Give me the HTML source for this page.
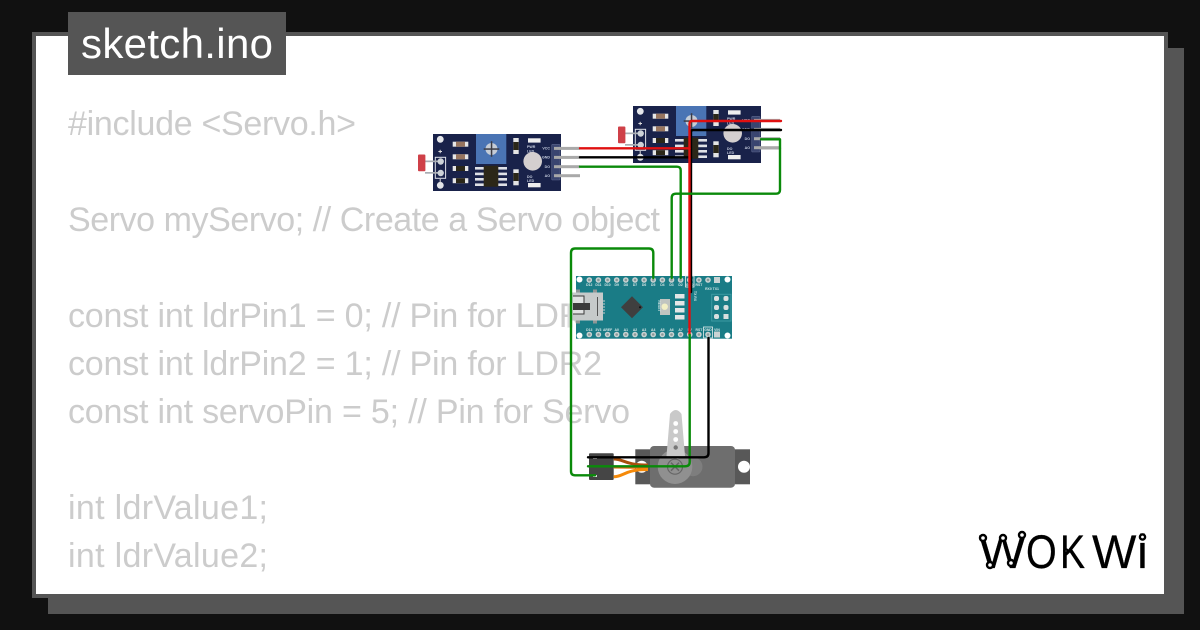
<!DOCTYPE html>
<html><head><meta charset="utf-8"><style>
html,body{margin:0;padding:0;background:#111;width:1200px;height:630px;overflow:hidden}
svg{display:block}
.c{font-family:"Liberation Sans",sans-serif;font-size:34px;fill:#ccc}
.t{font-family:"Liberation Sans",sans-serif;fill:#fff}
.m{font-family:"Liberation Sans",sans-serif;font-size:3.6px;fill:#c8cfe0;font-weight:bold}
.n{font-family:"Liberation Sans",sans-serif;font-size:3.4px;fill:#d5e6e6;text-anchor:middle;font-weight:bold}
.l{font-family:"Liberation Sans",sans-serif;font-size:47px;fill:#000;stroke:#000;stroke-width:.2}
.w{fill:none;stroke-width:2.4;stroke-linecap:round;stroke-linejoin:round}
</style></head><body>
<svg width="1200" height="630" viewBox="0 0 1200 630" xmlns="http://www.w3.org/2000/svg">
<defs>
<g id="mod">
<rect x="0" y="0" width="128" height="57" fill="#19224a"/>
<circle cx="7.3" cy="5.3" r="3.4" fill="#e4e6ea"/><circle cx="7.3" cy="51.3" r="3.4" fill="#e4e6ea"/>
<rect x="5.4" y="17" width="3.6" height="1" fill="#ddd"/><rect x="6.7" y="15.8" width="1" height="3.4" fill="#ddd"/>
<rect x="6.7" y="45" width="1" height="4" fill="#ddd"/>
<rect x="2.3" y="23.3" width="10.3" height="21" fill="none" stroke="#dfe3ea" stroke-width="1"/>
<rect x="-8" y="26.5" width="16" height="1.7" fill="#a9adb3"/><rect x="-8" y="38" width="16" height="1.7" fill="#a9adb3"/>
<circle cx="7.7" cy="27.5" r="3.2" fill="#cdd3d8"/><circle cx="7.7" cy="39" r="3.2" fill="#cdd3d8"/>
<rect x="-15" y="20.5" width="7.4" height="16.7" rx="1" fill="#cf4048"/>
<rect x="19.7" y="7.7" width="15.6" height="5" fill="#e6e6e6"/><rect x="23" y="7.7" width="9" height="5" fill="#97755f"/>
<rect x="19.7" y="20.3" width="15.6" height="5" fill="#e6e6e6"/><rect x="23" y="20.3" width="9" height="5" fill="#97755f"/>
<rect x="19.7" y="32" width="15.6" height="5" fill="#e6e6e6"/><rect x="23" y="32" width="9" height="5" fill="#2b2718"/>
<rect x="19.7" y="44.2" width="15.6" height="5" fill="#e6e6e6"/><rect x="23" y="44.2" width="9" height="5" fill="#2b2718"/>
<rect x="43" y="0" width="30.3" height="30" fill="#4a74b4"/>
<circle cx="58.5" cy="15" r="6" fill="#c5ccd6"/><rect x="50.7" y="14.3" width="15.6" height="1.5" fill="#3c3c44"/><rect x="57.8" y="7.2" width="1.5" height="15.6" fill="#3c3c44"/>
<g fill="#dfe1e6"><rect x="42" y="33" width="32" height="2.6"/><rect x="42" y="38.6" width="32" height="2.6"/><rect x="42" y="44" width="32" height="2.6"/><rect x="42" y="49.4" width="32" height="2.6"/></g>
<rect x="50.7" y="31.7" width="14.6" height="21" fill="#2c2718"/>
<rect x="80.3" y="4" width="5.4" height="16" fill="#e4e4e4"/><rect x="80.3" y="8" width="5.4" height="8" fill="#2b2718"/>
<rect x="80.3" y="35.3" width="5.4" height="16" fill="#e4e4e4"/><rect x="80.3" y="39" width="5.4" height="8" fill="#2b2718"/>
<rect x="95" y="4.3" width="12.6" height="4.3" fill="#eee"/><rect x="95" y="49" width="12.6" height="4.3" fill="#eee"/>
<text class="m" x="94" y="14">PWR</text><text class="m" x="94" y="18.3">LED</text>
<text class="m" x="94" y="44">DO</text><text class="m" x="94" y="48">LED</text>
<circle cx="99.7" cy="27.3" r="9.3" fill="#d4cfcf"/>
<text class="m" x="117" y="15.6" text-anchor="end">VCC</text><text class="m" x="117" y="24.7" text-anchor="end">GND</text><text class="m" x="117" y="34" text-anchor="end">DO</text><text class="m" x="117" y="43" text-anchor="end">AO</text>
<rect x="118.7" y="10.3" width="8.3" height="35.7" rx="1" fill="#3a4570" stroke="#5a648a" stroke-width=".6"/>
<g fill="#a9a9a9"><rect x="121" y="12.9" width="26" height="3"/><rect x="121" y="21.9" width="26" height="3"/><rect x="121" y="31.2" width="26" height="3"/><rect x="121" y="40.2" width="26" height="3"/></g>
</g>
<g id="pin"><circle r="2.8" fill="#c9d3d3"/><circle r="1.3" fill="#8c9a9a"/></g>
</defs>

<rect x="48" y="48" width="1136" height="566" fill="#555"/>
<rect x="32" y="32" width="1136" height="566" fill="#555"/>
<rect x="36" y="36" width="1128" height="558" fill="#fff"/>
<rect x="68" y="12" width="218" height="63" fill="#555"/>
<text class="t" x="81" y="58" font-size="42" textLength="192">sketch.ino</text>

<text class="c" x="68" y="135" textLength="288">#include &lt;Servo.h&gt;</text>
<text class="c" x="68" y="231" textLength="592">Servo myServo; // Create a Servo object</text>
<text class="c" x="68" y="327" textLength="534">const int ldrPin1 = 0; // Pin for LDR1</text>
<text class="c" x="68" y="375" textLength="534">const int ldrPin2 = 1; // Pin for LDR2</text>
<text class="c" x="68" y="423" textLength="562">const int servoPin = 5; // Pin for Servo</text>
<text class="c" x="68" y="519" textLength="200">int ldrValue1;</text>
<text class="c" x="68" y="567" textLength="200">int ldrValue2;</text>

<use href="#mod" x="433" y="134"/>
<use href="#mod" x="633" y="106"/>

<!-- Nano -->
<rect x="576" y="276" width="156" height="62.7" fill="#1a7c86"/>
<g fill="#fff"><circle cx="579.5" cy="279.5" r="3"/><circle cx="727.5" cy="279.5" r="3"/><circle cx="579.5" cy="335.5" r="3"/><circle cx="727.5" cy="335.5" r="3"/></g>
<g>
<use href="#pin" x="589.3" y="280"/><use href="#pin" x="598.4" y="280"/><use href="#pin" x="607.6" y="280"/><use href="#pin" x="616.7" y="280"/><use href="#pin" x="625.8" y="280"/><use href="#pin" x="635" y="280"/><use href="#pin" x="644.1" y="280"/><use href="#pin" x="653.2" y="280"/><use href="#pin" x="662.4" y="280"/><use href="#pin" x="671.5" y="280"/><use href="#pin" x="680.6" y="280"/><use href="#pin" x="689.7" y="280"/><use href="#pin" x="698.9" y="280"/><use href="#pin" x="708" y="280"/><rect x="714" y="277" width="6" height="6" fill="#c9d3d3"/>
<use href="#pin" x="589.3" y="334.5"/><use href="#pin" x="598.4" y="334.5"/><use href="#pin" x="607.6" y="334.5"/><use href="#pin" x="616.7" y="334.5"/><use href="#pin" x="625.8" y="334.5"/><use href="#pin" x="635" y="334.5"/><use href="#pin" x="644.1" y="334.5"/><use href="#pin" x="653.2" y="334.5"/><use href="#pin" x="662.4" y="334.5"/><use href="#pin" x="671.5" y="334.5"/><use href="#pin" x="680.6" y="334.5"/><use href="#pin" x="689.7" y="334.5"/><use href="#pin" x="698.9" y="334.5"/><use href="#pin" x="708" y="334.5"/><rect x="714" y="331.5" width="6" height="6" fill="#c9d3d3"/>
</g>
<rect x="685.5" y="276" width="8.5" height="11" fill="none" stroke="#e8eeee" stroke-width=".8"/>
<rect x="703.5" y="327" width="9" height="11" fill="none" stroke="#e8eeee" stroke-width=".8"/>
<text class="n" x="589.3" y="286">D12</text><text class="n" x="598.4" y="286">D11</text><text class="n" x="607.6" y="286">D10</text><text class="n" x="616.7" y="286">D9</text><text class="n" x="625.8" y="286">D8</text><text class="n" x="635" y="286">D7</text><text class="n" x="644.1" y="286">D6</text><text class="n" x="653.2" y="286">D5</text><text class="n" x="662.4" y="286">D4</text><text class="n" x="671.5" y="286">D3</text><text class="n" x="680.6" y="286">D2</text><text class="n" x="689.7" y="286">GND</text><text class="n" x="698.9" y="286">RST</text>
<text class="n" x="712" y="290">RX0 TX1</text>
<text class="n" x="589.3" y="331">D13</text><text class="n" x="598.4" y="331">3V3</text><text class="n" x="607.6" y="331">AREF</text><text class="n" x="616.7" y="331">A0</text><text class="n" x="625.8" y="331">A1</text><text class="n" x="635" y="331">A2</text><text class="n" x="644.1" y="331">A3</text><text class="n" x="653.2" y="331">A4</text><text class="n" x="662.4" y="331">A5</text><text class="n" x="671.5" y="331">A6</text><text class="n" x="680.6" y="331">A7</text><text class="n" x="689.7" y="331">5V</text><text class="n" x="698.9" y="331">RST</text><text class="n" x="708" y="331">GND</text><text class="n" x="717" y="331">VIN</text>
<!-- USB -->
<rect x="567.5" y="303.5" width="5" height="24" fill="#dcdcdc"/>
<rect x="572" y="292.5" width="31" height="28" fill="#c6caca"/>
<rect x="576" y="289.5" width="4" height="3" fill="#8f9696"/><rect x="593" y="289.5" width="4" height="3" fill="#8f9696"/><rect x="576" y="320.5" width="4" height="3" fill="#8f9696"/><rect x="593" y="320.5" width="4" height="3" fill="#8f9696"/>
<path d="M573 296h11v18h-11" fill="#e0e2e2" stroke="#3b3b3b" stroke-width="1"/>
<rect x="573" y="303" width="17" height="7" fill="#3b3b3b"/>
<rect x="597" y="297" width="1" height="19" fill="#555"/>
<path d="M603 301h2M603 304h2M603 307h2M603 310h2M603 313h2" stroke="#ccc" stroke-width="1"/>
<path d="M632 296.3L643 307.3L632 318.3L621 307.3Z" fill="#3f3f3f"/><circle cx="640" cy="307.3" r="1" fill="#111"/>
<rect x="660" y="299" width="10" height="16" fill="#c0c4c0"/><circle cx="664.7" cy="306.7" r="3.2" fill="#f2efc4"/>
<text class="n" transform="translate(658,306) rotate(90)">RESET</text>
<g fill="#e3e6e6"><rect x="675" y="294" width="9.5" height="4.5"/><rect x="675" y="301" width="9.5" height="4.5"/><rect x="675" y="308" width="9.5" height="4.5"/><rect x="675" y="315" width="9.5" height="4.5"/></g>
<text class="n" transform="translate(694,296) rotate(90)">TX RX</text>
<rect x="711.7" y="294.3" width="19.3" height="26.7" fill="none" stroke="#3c9aa2" stroke-width="1"/>
<g fill="#d8dfdf"><rect x="714" y="296" width="5" height="5" rx="2"/><rect x="723.5" y="296" width="5" height="5" rx="2"/><rect x="714" y="305" width="5" height="5" rx="2"/><rect x="723.5" y="305" width="5" height="5" rx="2"/><rect x="714" y="314" width="5" height="5" rx="2"/><rect x="723.5" y="314" width="5" height="5"/></g>

<!-- Servo -->
<rect x="635.3" y="449.3" width="114.7" height="35" fill="#585858"/>
<circle cx="641.7" cy="466.7" r="6" fill="#fff"/><circle cx="744" cy="466.7" r="6" fill="#fff"/>
<rect x="650" y="446" width="85" height="41.7" rx="4" fill="#6e6e6e"/>
<circle cx="693" cy="466.7" r="9.5" fill="#7e7e7e"/>
<circle cx="675" cy="466.7" r="17.3" fill="#909090"/>
<path d="M670 414 Q675.7 406 681.5 414 L685 456 Q675.7 462 666.5 456Z" fill="#c9c9c9"/>
<g fill="#fff"><circle cx="675.7" cy="423.5" r="2.4"/><circle cx="675.7" cy="431.5" r="2.4"/><circle cx="675.7" cy="439.5" r="2.4"/></g><circle cx="675.7" cy="447.5" r="2.2" fill="#777"/>
<circle cx="675" cy="466.7" r="7.5" fill="#909090" stroke="#666" stroke-width="1.2"/>
<path d="M671 462.7l8 8M679 462.7l-8 8" stroke="#666" stroke-width="1.5"/>
<rect x="589" y="453.3" width="24.7" height="26.7" rx="1" fill="#454545"/>
<g fill="#ddd"><rect x="593" y="457" width="4" height="2"/><rect x="593" y="465.5" width="4" height="2"/><rect x="593" y="475" width="4" height="2"/></g>
<path d="M613.7 459C624 459 624 465 648 465" fill="none" stroke="#a84f0d" stroke-width="3"/>
<path d="M613.7 467L648 467.3" fill="none" stroke="#e0660a" stroke-width="3"/>
<path d="M613.7 476.7C624 476.7 624 469.5 648 469.5" fill="none" stroke="#f58a0a" stroke-width="3"/>

<!-- Wires -->
<path class="w" stroke="#000" d="M580 157.3H691"/>
<path class="w" stroke="#000" d="M781 130H693Q691 130 691 132V292"/>
<path class="w" stroke="#e01010" d="M580 148.3H689.5"/>
<path class="w" stroke="#e01010" d="M781 121H692Q689.5 121 689.5 124V335"/>
<path class="w" stroke="#0a8a0a" d="M580 166.7H677Q680.7 166.7 680.7 170.5V278"/>
<path class="w" stroke="#a9a9a9" d="M761 148.3H780"/>
<path class="w" stroke="#0a8a0a" d="M761 139.3H780V190Q780 193.7 776 193.7H676Q671.7 193.7 671.7 198V278"/>
<path class="w" stroke="#0a8a0a" d="M653.3 278V253Q653.3 248.5 649 248.5H575Q571 248.5 571 253V471Q571 475.3 575 475.3H595"/>
<path class="w" stroke="#0a8a0a" d="M689.7 335V462Q689.7 466.3 685 466.3H588"/>
<path class="w" stroke="#000" d="M708.5 338V453Q708.5 457.3 704 457.3H588"/>

<!-- Logo -->
<g>
<text class="l" transform="translate(979,568) scale(1.05,1)">W</text>
<text class="l" transform="translate(1026,568) scale(.84,1)">O</text>
<text class="l" transform="translate(1060,568) scale(.8,1)">K</text>
<text class="l" transform="translate(1092,568) scale(1,1)">W</text>
<text class="l" x="1142.5" y="568" text-anchor="middle">i</text>
<g fill="#fff" stroke="#000" stroke-width="2.4"><circle cx="983" cy="538" r="3"/><circle cx="1003" cy="538" r="3"/><circle cx="1022" cy="535" r="3"/><circle cx="990" cy="565" r="3"/><circle cx="1011" cy="563" r="3"/><circle cx="1066" cy="551" r="1.6"/><circle cx="1142.5" cy="537" r="2.6"/></g>
</g>
</svg>
</body></html>
